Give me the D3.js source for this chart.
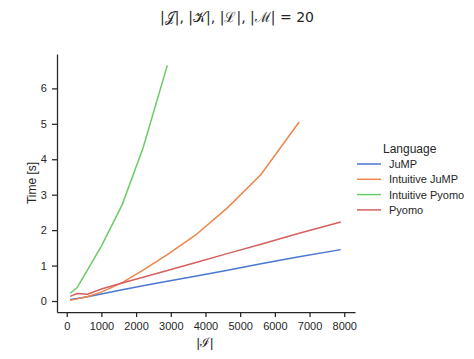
<!DOCTYPE html>
<html>
<head>
<meta charset="utf-8">
<script src="https://cdn.jsdelivr.net/npm/d3@7"></script>
<style>
  body { margin: 0; background: #fff; }
  svg { display: block; font-family: "Liberation Sans", Arial, sans-serif; }
  .axis path, .axis line { stroke: #262626; }
  .axis text { fill: #262626; font-size: 11px; }
</style>
</head>
<body>
<div id="chart"></div>
<script>
// data: problem size |I| vs solve time in seconds
const sizes = [100, 300, 600, 1000, 1600, 2200, 2900, 3700, 4600, 5600, 6700, 7900];
const languages = ["JuMP", "Intuitive JuMP", "Intuitive Pyomo", "Pyomo"];
const jump           = [0.04, 0.07, 0.12, 0.20, 0.32, 0.43, 0.56, 0.70, 0.86, 1.05, 1.25, 1.45];
const intuitiveJump  = [0.02, 0.06, 0.13, 0.25, 0.52, 0.87, 1.31, 1.85, 2.60, 3.57, 5.05];
const intuitivePyomo = [0.22, 0.38, 0.88, 1.55, 2.72, 4.32, 6.65];
const pyomo          = [0.13, 0.21, 0.19, 0.34, 0.51, 0.67, 0.86, 1.08, 1.33, 1.60, 1.91, 2.23];
const xTicks = [0, 1000, 2000, 3000, 4000, 5000, 6000, 7000, 8000];
const yTicks = [0, 1, 2, 3, 4, 5, 6];

const series = [jump, intuitiveJump, intuitivePyomo, pyomo].map((vals, i) => ({
  name: languages[i],
  points: vals.map((v, j) => ({x: sizes[j], y: v}))
}));

const color = d3.scaleOrdinal()
  .domain(languages)
  .range(["#4878d0", "#ee854a", "#6acc64", "#d65f5f"]);

const W = 474, H = 359;
const margin = {top: 54, right: 119, bottom: 47, left: 57};

const svg = d3.select('#chart').append('svg')
  .attr('width', W).attr('height', H);

const x = d3.scaleLinear().domain([-280, 8310]).range([margin.left, W - margin.right]);
const y = d3.scaleLinear().domain([-0.31, 6.97]).range([H - margin.bottom, margin.top]);

svg.append('g').attr('class', 'axis x')
  .attr('transform', `translate(0,${H - margin.bottom})`)
  .call(d3.axisBottom(x).tickValues(xTicks).tickFormat(d3.format('d')).tickSize(5).tickSizeOuter(0))
  .call(g => g.selectAll('text').attr('dy', '0.9em'));

svg.append('g').attr('class', 'axis y')
  .attr('transform', `translate(${margin.left},0)`)
  .call(d3.axisLeft(y).tickValues(yTicks).tickSize(5).tickSizeOuter(0))
  .call(g => g.selectAll('text').attr('dx', '-0.2em'));

svg.selectAll('.axis path.domain').attr('stroke-width', 1.25);
svg.selectAll('.axis .tick line').attr('stroke-width', 1.25);

const line = d3.line().x(d => x(d.x)).y(d => y(d.y));

svg.append('g').selectAll('path')
  .data(series)
  .enter().append('path')
    .attr('d', d => line(d.points))
    .attr('fill', 'none')
    .attr('stroke', d => color(d.name))
    .attr('stroke-width', 1.5);

// title: script letters from the fallback font, the rest in DejaVu like mathtext
const titleParts = [["|", 0], ["𝒥", 1], ["|, |", 0], ["𝒦", 1], ["|, |", 0], ["ℒ", 1], ["|, |", 0], ["ℳ", 1], ["| = 20", 0]];
const title = svg.append('text')
  .attr('x', 237).attr('y', 22)
  .attr('text-anchor', 'middle')
  .attr('font-size', 14).attr('fill', '#262626');
title.selectAll('tspan')
  .data(titleParts)
  .enter().append('tspan')
    .attr('font-family', d => d[1] ? '"Liberation Sans", sans-serif' : '"DejaVu Sans", sans-serif')
    .text(d => d[0]);

svg.append('text')
  .attr('x', (margin.left + W - margin.right) / 2 - 1).attr('y', 347)
  .attr('text-anchor', 'middle')
  .attr('font-size', 13).attr('fill', '#262626')
  .text('|ℐ|');

svg.append('text')
  .attr('transform', `translate(36,${(margin.top + H - margin.bottom) / 2}) rotate(-90)`)
  .attr('text-anchor', 'middle')
  .attr('font-size', 12).attr('fill', '#262626')
  .text('Time [s]');

// legend
const legend = svg.append('g').attr('transform', 'translate(357,0)');
legend.append('text')
  .attr('x', 26).attr('y', 153)
  .attr('font-size', 12).attr('fill', '#262626')
  .text('Language');
const items = legend.selectAll('g.item')
  .data(languages)
  .enter().append('g')
    .attr('class', 'item')
    .attr('transform', (d, i) => `translate(0,${164 + i * 15.3})`);
items.append('line')
  .attr('x1', 0).attr('x2', 24)
  .attr('stroke', d => color(d)).attr('stroke-width', 1.5);
items.append('text')
  .attr('x', 32).attr('y', 4)
  .attr('font-size', 11).attr('fill', '#262626')
  .text(d => d);
</script>
</body>
</html>
